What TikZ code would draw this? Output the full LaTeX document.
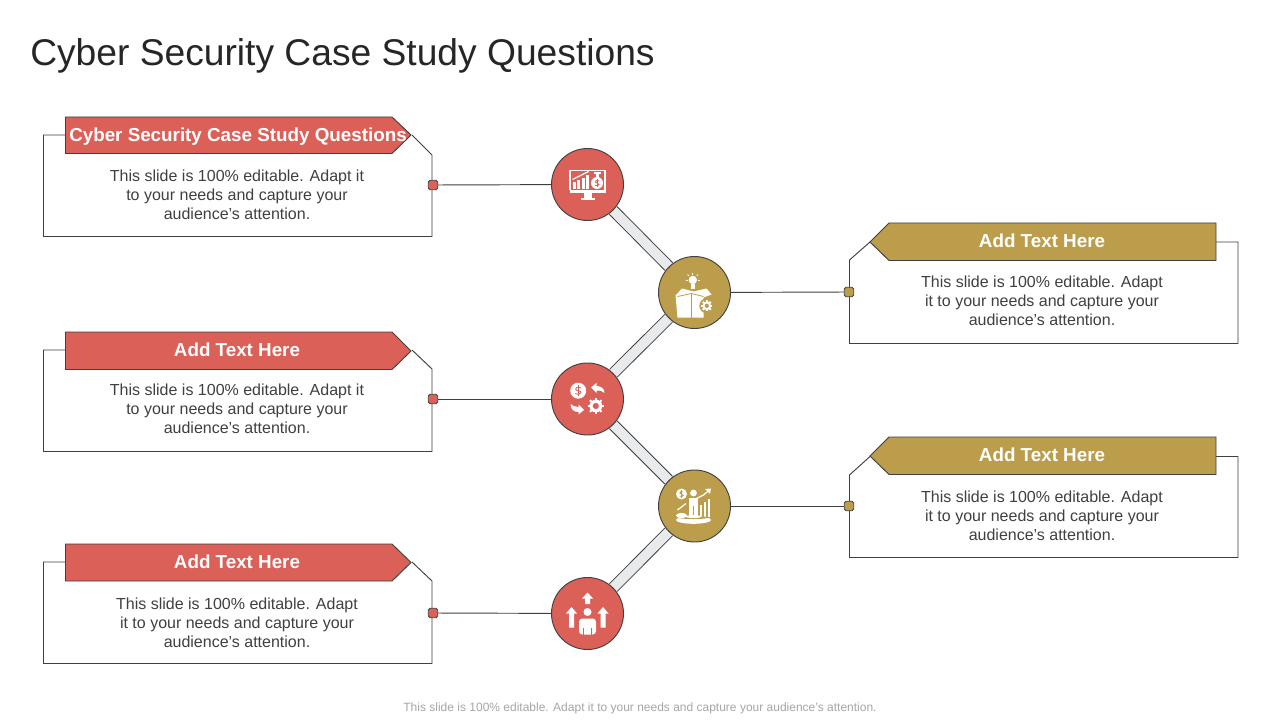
\documentclass[tikz,border=0pt]{standalone}
\usepackage{fontspec}
\usetikzlibrary{backgrounds}
\setmainfont{Liberation Sans}
\definecolor{redfill}{HTML}{DB6058}
\definecolor{goldfill}{HTML}{BC9D4C}
\definecolor{linegray}{HTML}{404040}
\definecolor{bandgray}{HTML}{E9EAEC}
\tikzset{
    panel/.style={draw=linegray,fill=white,line width=0.7pt},
    banner/.style={draw=linegray,line width=0.7pt},
    headtext/.style={text=white,font=\fontsize{14.1}{18}\selectfont\bfseries,inner sep=0pt},
    bodytext/.style={text=linegray,font=\fontsize{12}{14.25}\selectfont,align=center,inner sep=0pt},
    hub/.style={circle,draw=linegray,line width=0.7pt,minimum size=54pt,inner sep=0pt},
    port/.style={draw=linegray,line width=0.6pt,rounded corners=1.2pt,minimum size=7pt,inner sep=0pt},
    band/.style={draw=linegray,line width=0.7pt,double=bandgray,double distance=7.4pt},
    wire/.style={draw=linegray,line width=0.7pt},
    icon/.style={fill=white,draw=none},
    iconline/.style={draw=white,line width=0.9pt}
}
\newcommand{\drawgear}[4]{% x, y, radius, hole colour
    \begin{scope}[shift={(#1,#2)}]
        \foreach \a in {0,45,...,315} {\draw[white,line width=1.5pt] (\a:0.7*#3) -- (\a:#3);}
        \fill[white] (0,0) circle (0.78*#3);
        \fill[#4] (0,0) circle (0.38*#3);
    \end{scope}
}
\newcommand{\drawdollar}[4]{% x, y, radius, ink colour
    \begin{scope}[shift={(#1,#2)}]
        \fill[white] (0,0) circle (#3);
        \begin{scope}[scale=#3]
            \draw[#4,line width=0.6pt] (0.32,-0.35) .. controls (0.1,-0.55) and (-0.4,-0.45) .. (-0.3,-0.15) .. controls (-0.2,0.1) and (0.4,-0.05) .. (0.33,0.25) .. controls (0.28,0.5) and (-0.15,0.55) .. (-0.36,0.35);
            \draw[#4,line width=0.6pt] (0,-0.7) -- (0,0.7);
        \end{scope}
    \end{scope}
}
\begin{document}
\begin{tikzpicture}[x=0.75pt,y=-0.75pt]
    \useasboundingbox (0,0) rectangle (1280,720);

    % title and footer
    \node[anchor=west,inner sep=0pt,text=black!85,font=\fontsize{27.9}{32}\selectfont] (title) at (30,55.5) {Cyber Security Case Study Questions};
    \node[text=black!35,inner sep=0pt,font=\fontsize{9}{11}\selectfont] (footer) at (640,708) {This slide is 100\% editable. Adapt it to your needs and capture your audience's attention.};

    % hubs
    \node[hub,fill=redfill] (hubA) at (587.5,184.5) {};
    \node[hub,fill=goldfill] (hubB) at (694.5,292.5) {};
    \node[hub,fill=redfill] (hubC) at (587.5,399) {};
    \node[hub,fill=goldfill] (hubD) at (694.5,506) {};
    \node[hub,fill=redfill] (hubE) at (587.5,613.5) {};

    % left panels
    \draw[panel] (65,135) -- (43.5,135) -- (43.5,236.5) -- (432,236.5) -- (432,155) -- (412,135);
    \draw[panel] (65,350) -- (43.5,350) -- (43.5,451.5) -- (432,451.5) -- (432,369) -- (412,350);
    \draw[panel] (65,562) -- (43.5,562) -- (43.5,663.5) -- (432,663.5) -- (432,581) -- (412,562);
    \draw[banner,fill=redfill] (65.5,117) -- (392,117) -- (411,135) -- (392,153.5) -- (65.5,153.5) -- cycle;
    \draw[banner,fill=redfill] (65.5,332) -- (392,332) -- (411,351) -- (392,369.5) -- (65.5,369.5) -- cycle;
    \draw[banner,fill=redfill] (65.5,544) -- (392,544) -- (411,562.5) -- (392,581) -- (65.5,581) -- cycle;
    \node[headtext] (headA) at (238,136.5) {Cyber Security Case Study Questions};
    \node[headtext] (headC) at (237,350) {Add Text Here};
    \node[headtext] (headE) at (237,562) {Add Text Here};
    \node[bodytext] (bodyA) at (237,194.8) {This slide is 100\% editable. Adapt it\\to your needs and capture your\\audience's attention.};
    \node[bodytext] (bodyC) at (237,408.8) {This slide is 100\% editable. Adapt it\\to your needs and capture your\\audience's attention.};
    \node[bodytext] (bodyE) at (237,622.8) {This slide is 100\% editable. Adapt\\it to your needs and capture your\\audience's attention.};

    % right panels
    \draw[panel] (1216,242) -- (1238,242) -- (1238,343.5) -- (849.5,343.5) -- (849.5,260) -- (870,242);
    \draw[panel] (1216,456.5) -- (1238,456.5) -- (1238,557.5) -- (849.5,557.5) -- (849.5,475) -- (870,456.5);
    \draw[banner,fill=goldfill] (1216,223) -- (889,223) -- (870,242) -- (889,260.5) -- (1216,260.5) -- cycle;
    \draw[banner,fill=goldfill] (1216,437) -- (889,437) -- (870,456) -- (889,474.5) -- (1216,474.5) -- cycle;
    \node[headtext] (headB) at (1042,241) {Add Text Here};
    \node[headtext] (headD) at (1042,455) {Add Text Here};
    \node[bodytext] (bodyB) at (1042,300.8) {This slide is 100\% editable. Adapt\\it to your needs and capture your\\audience's attention.};
    \node[bodytext] (bodyD) at (1042,515.8) {This slide is 100\% editable. Adapt\\it to your needs and capture your\\audience's attention.};

    % ports
    \node[port,fill=redfill] (portA) at (433,185) {};
    \node[port,fill=goldfill] (portB) at (849,292) {};
    \node[port,fill=redfill] (portC) at (433,399) {};
    \node[port,fill=goldfill] (portD) at (849,506) {};
    \node[port,fill=redfill] (portE) at (433,613) {};

    % bands and wires go under the hubs
    \begin{pgfonlayer}{background}
        \fill[white] (0,0) rectangle (1280,720);
        \path[band] (hubA) -- (hubB);
        \path[band] (hubB) -- (hubC);
        \path[band] (hubC) -- (hubD);
        \path[band] (hubD) -- (hubE);
        \draw[wire] (hubA) -- (portA);
        \draw[wire] (hubB) -- (portB);
        \draw[wire] (hubC) -- (portC);
        \draw[wire] (hubD) -- (portD);
        \draw[wire] (hubE) -- (portE);
    \end{pgfonlayer}

    % icon: monitor
    \begin{scope}[shift={(hubA)}]
        \draw[iconline] (-17.5,6) -- (-17.5,-14) -- (17.5,-14) -- (17.5,6);
        \fill[icon] (-18,5.5) rectangle (18,9);
        \fill[icon] (-4,9) rectangle (4,14);
        \fill[icon] (-7,13.5) rectangle (7,16);
        \fill[icon] (-15,-2) rectangle (-12,4.5);
        \fill[icon] (-10.5,-4) rectangle (-7.5,4.5);
        \fill[icon] (-6,-6.5) rectangle (-3,4.5);
        \fill[icon] (-1.5,-9) rectangle (1.5,4.5);
        \draw[iconline] (-15,-5) -- (1,-13);
        \fill[icon] (6,-12.5) rectangle (13,-10);
        \fill[icon] (8,-11) rectangle (11,-6);
        \drawdollar{9.5}{-1.5}{6}{redfill}
    \end{scope}

    % icon: open box
    \begin{scope}[shift={(hubB)}]
        \fill[icon] (-1.7,-12.5) circle (4.2);
        \fill[icon] (-3.5,-9) rectangle (0.2,-4);
        \draw[iconline,line width=0.6pt] (-9,-12.5) -- (-7,-12.5);
        \draw[iconline,line width=0.6pt] (3.6,-12.5) -- (5.6,-12.5);
        \draw[iconline,line width=0.6pt] (-7,-18) -- (-5.6,-16.6);
        \draw[iconline,line width=0.6pt] (3.6,-18) -- (2.2,-16.6);
        \draw[iconline,line width=0.6pt] (-1.7,-20) -- (-1.7,-18);
        \fill[icon] (-19,3) -- (-12.5,-4) -- (-1,-1) -- (12,-4) -- (17,2) -- (9,5) -- (9,25) -- (-17,25) -- cycle;
        \draw[goldfill,line width=0.6pt] (-3,1) -- (-3,25);
        \draw[goldfill,line width=0.6pt] (-17,4) -- (-3,1) -- (9,4);
        \fill[goldfill] (12.3,13.3) circle (7.5);
        \drawgear{12.3}{13.3}{5.6}{goldfill}
    \end{scope}

    % icon: dollar and gear
    \begin{scope}[shift={(hubC)}]
        \drawdollar{-9.3}{-8.3}{8}{redfill}
        \drawgear{8.3}{7}{8.2}{redfill}
        \fill[icon] (3.5,-11.5) -- (9,-16) -- (9,-13) .. controls (14,-13) and (17,-10) .. (17,-6) .. controls (15,-8) and (12,-9) .. (9,-8.5) -- (9,-6) -- cycle;
        \fill[icon] (-3.5,11) -- (-9,15.5) -- (-9,13) .. controls (-14,13) and (-17,10) .. (-17,5) .. controls (-15,7) and (-12,8) .. (-9,8) -- (-9,5.5) -- cycle;
    \end{scope}

    % icon: presenter
    \begin{scope}[shift={(hubD)}]
        \drawdollar{-13}{-12}{5.5}{goldfill}
        \fill[icon] (-1,-13) circle (3.4);
        \fill[icon] (-5.5,-8.5) rectangle (3,13);
        \draw[iconline] (2,-7.5) -- (9,-11) -- (15,-16);
        \fill[icon] (16.5,-17.5) -- (10.5,-17) -- (15.5,-12) -- cycle;
        \draw[goldfill,line width=0.5pt] (-1,0) -- (-1,13);
        \fill[icon] (5,-1) rectangle (7,11);
        \fill[icon] (9,-4) rectangle (11,11);
        \fill[icon] (13,-7) rectangle (15,11);
        \draw[iconline] (-17,4) -- (-8.5,-2.5);
        \fill[icon] (-1,14) ellipse (17.5 and 3.8);
        \fill[goldfill] (-1,11.6) ellipse (15 and 1.4);
        \fill[icon] (-1,10.6) ellipse (8 and 1.4);
        \fill[icon] (-13,9.5) ellipse (5.5 and 2.6);
    \end{scope}

    % icon: person with arrows
    \begin{scope}[shift={(hubE)}]
        \fill[icon] (0,-21) -- (5.5,-15) -- (2.5,-15) -- (2.5,-9.5) -- (-2.5,-9.5) -- (-2.5,-15) -- (-5.5,-15) -- cycle;
        \fill[icon] (-16,-6.5) -- (-10.5,0) -- (-13.5,0) -- (-13.5,14) -- (-18.5,14) -- (-18.5,0) -- (-21.5,0) -- cycle;
        \fill[icon] (15.5,-6.5) -- (21,0) -- (18,0) -- (18,14) -- (13,14) -- (13,0) -- (10,0) -- cycle;
        \fill[icon] (0,-1.5) circle (4);
        \fill[icon,rounded corners=2.5pt] (-8.5,21) -- (-8.5,5) -- (8.5,5) -- (8.5,21) -- cycle;
        \fill[redfill] (-4.5,14) rectangle (-3.5,21);
        \fill[redfill] (3.5,14) rectangle (4.5,21);
    \end{scope}
\end{tikzpicture}
\end{document}
